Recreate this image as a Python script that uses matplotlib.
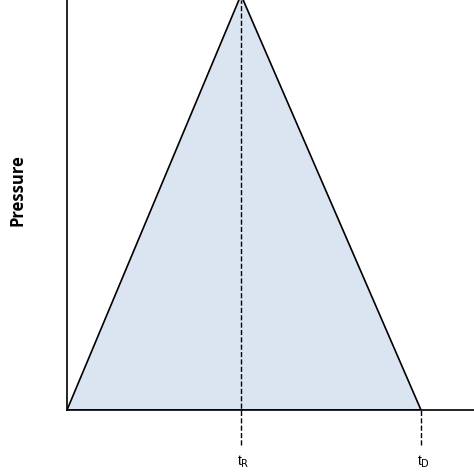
import matplotlib
matplotlib.use("Agg")
import matplotlib.pyplot as plt

tri_x = [0, 174, 354]
tri_y = [0, 415, 0]
marks_x = [174, 354]
mark_labels = [r"t$_\mathrm{R}$", r"t$_\mathrm{D}$"]

fig = plt.figure(figsize=(4.74, 4.74), dpi=100)
ax = fig.add_axes([67/474, 64/474, 1 - 67/474, 1 - 64/474])
ax.set_xlim(0, 407)
ax.set_ylim(0, 410)
ax.fill(tri_x, tri_y, facecolor="#dbe4f1", edgecolor="black", linewidth=1.2)
ax.plot([marks_x[0]]*2, [-35, 410], ls="--", color="black", lw=1, clip_on=False)
ax.plot([marks_x[1]]*2, [-35, 0], ls="--", color="black", lw=1, clip_on=False)
for x, l in zip(marks_x, mark_labels):
    ax.text(x + 2, -52, l, ha="center", va="center", fontsize=10, fontfamily="Liberation Sans")
for s in ["top", "right"]:
    ax.spines[s].set_visible(False)
ax.spines["left"].set_linewidth(1.2)
ax.spines["bottom"].set_linewidth(1.2)
ax.set_xticks([]); ax.set_yticks([])
fig.text(18/474, 1 - 190/474, "Pressure", rotation=90, ha="center", va="center",
         fontsize=12, fontweight="bold", fontfamily="Open Sans")
fig.savefig("out.png", dpi=100)
